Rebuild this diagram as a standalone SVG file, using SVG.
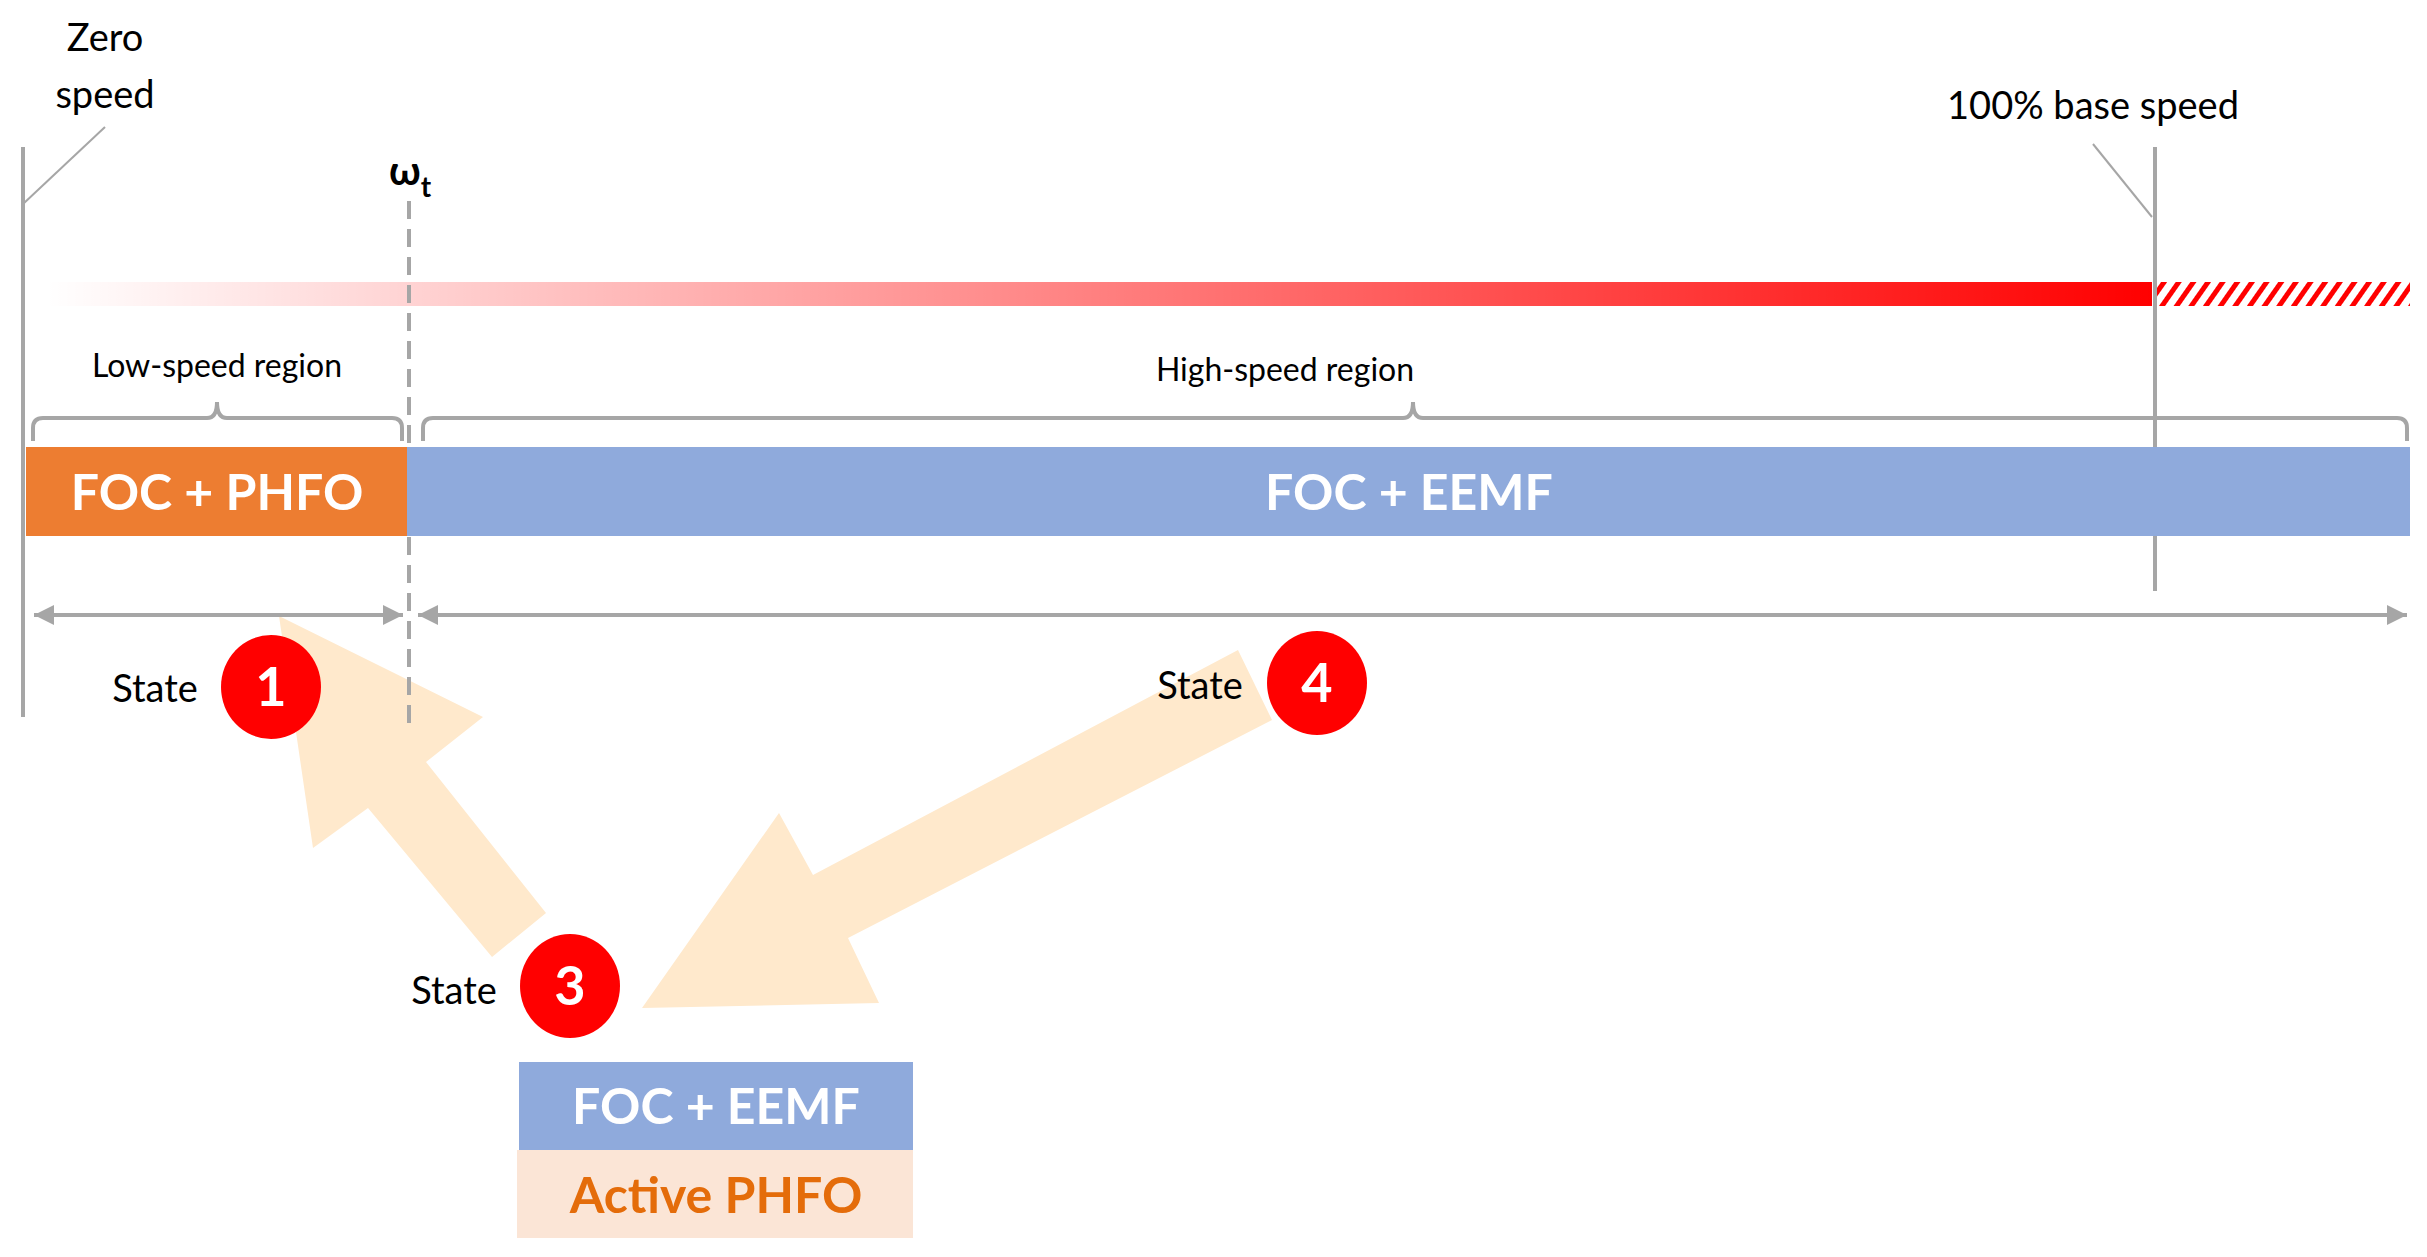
<svg xmlns="http://www.w3.org/2000/svg" width="2427" height="1257" viewBox="0 0 2427 1257">
<defs>
<linearGradient id="g" x1="0" x2="1"><stop offset="0" stop-color="#ff0000" stop-opacity="0"/><stop offset="1" stop-color="#ff0000"/></linearGradient>
<pattern id="h" width="12" height="12" patternUnits="userSpaceOnUse" patternTransform="rotate(35)"><rect width="12" height="12" fill="#fff"/><rect width="5" height="12" fill="#ff0000"/></pattern>
<marker id="a" viewBox="0 0 10 10" refX="10" refY="5" markerWidth="5" markerHeight="5" orient="auto-start-reverse"><path d="M0,0L10,5L0,10z" fill="#a6a6a6"/></marker>
<style>
.t{font-family:Lato,"Open Sans",sans-serif;fill:#000;text-anchor:middle}
.b{font-family:Lato,"Open Sans",sans-serif;font-weight:bold;fill:#fff;text-anchor:middle}
.g{stroke:#a6a6a6;fill:none}
.big{fill:#ffe9cc}
.c{fill:#ff0000}
</style>
</defs>
<g id="background">
<rect x="46" y="282" width="2106" height="24" fill="url(#g)"/>
<rect x="2155" y="282" width="255" height="24" fill="url(#h)"/>
</g>
<g id="connectors">
<polygon class="big" points="279,616 483,717 426,762 546,913 492,957 368,808 313,848"/>
<polygon class="big" points="642,1008 879,1003 848,938 1272,720 1238,650 813,875 779,813"/>
<line class="g" x1="23" y1="147" x2="23" y2="717" stroke-width="4"/>
<line class="g" x1="105" y1="127" x2="23" y2="204" stroke-width="2"/>
<line class="g" x1="409" y1="201" x2="409" y2="731" stroke-width="4" stroke-dasharray="18,10"/>
<line class="g" x1="2155" y1="147" x2="2155" y2="591" stroke-width="4"/>
<line class="g" x1="2093" y1="144" x2="2152" y2="217" stroke-width="2"/>
<path class="g" stroke-width="4" d="M33,441V428Q33,418 43,418H207Q217,418 217,402Q217,418 227,418H392Q402,418 402,428V441"/>
<path class="g" stroke-width="4" d="M423,441V428Q423,418 433,418H1403Q1413,418 1413,402Q1413,418 1423,418H2397Q2407,418 2407,428V441"/>
<line class="g" x1="34" y1="615" x2="403" y2="615" stroke-width="4" marker-start="url(#a)" marker-end="url(#a)"/>
<line class="g" x1="418" y1="615" x2="2407" y2="615" stroke-width="4" marker-start="url(#a)" marker-end="url(#a)"/>
</g>
<g id="labels">
<text class="t" x="105" y="51" font-size="38">Zero</text>
<text class="t" x="105" y="108" font-size="38">speed</text>
<text class="t" x="410" y="185" font-size="40" font-weight="bold">ω<tspan font-size="28" dy="12">t</tspan></text>
<text class="t" x="2093" y="119" font-size="38">100% base speed</text>
<text class="t" x="217" y="377" font-size="32">Low-speed region</text>
<text class="t" x="1285" y="381" font-size="32">High-speed region</text>
</g>
<g id="low">
<rect x="26" y="447" width="381" height="89" fill="#ed7d31"/>
<text class="b" x="217" y="510" font-size="50">FOC + PHFO</text>
</g>
<g id="high">
<rect x="407" y="447" width="2003" height="89" fill="#8faadc"/>
<text class="b" x="1409" y="510" font-size="50">FOC + EEMF</text>
</g>
<g id="state1">
<text class="t" x="155" y="702" font-size="38">State</text>
<ellipse class="c" cx="271" cy="687" rx="50" ry="52"/>
<text class="b" x="271" y="706" font-size="54">1</text>
</g>
<g id="state4">
<text class="t" x="1200" y="699" font-size="38">State</text>
<ellipse class="c" cx="1317" cy="683" rx="50" ry="52"/>
<text class="b" x="1317" y="702" font-size="54">4</text>
</g>
<g id="state3">
<text class="t" x="454" y="1004" font-size="38">State</text>
<ellipse class="c" cx="570" cy="986" rx="50" ry="52"/>
<text class="b" x="570" y="1005" font-size="54">3</text>
</g>
<g id="combo">
<rect x="519" y="1062" width="394" height="88" fill="#8faadc"/>
<text class="b" x="716" y="1124" font-size="50">FOC + EEMF</text>
<rect x="517" y="1150" width="396" height="88" fill="#fbe5d6"/>
<text class="b" x="716" y="1213" font-size="50" style="fill:#e46c0a">Active PHFO</text>
</g>
</svg>
